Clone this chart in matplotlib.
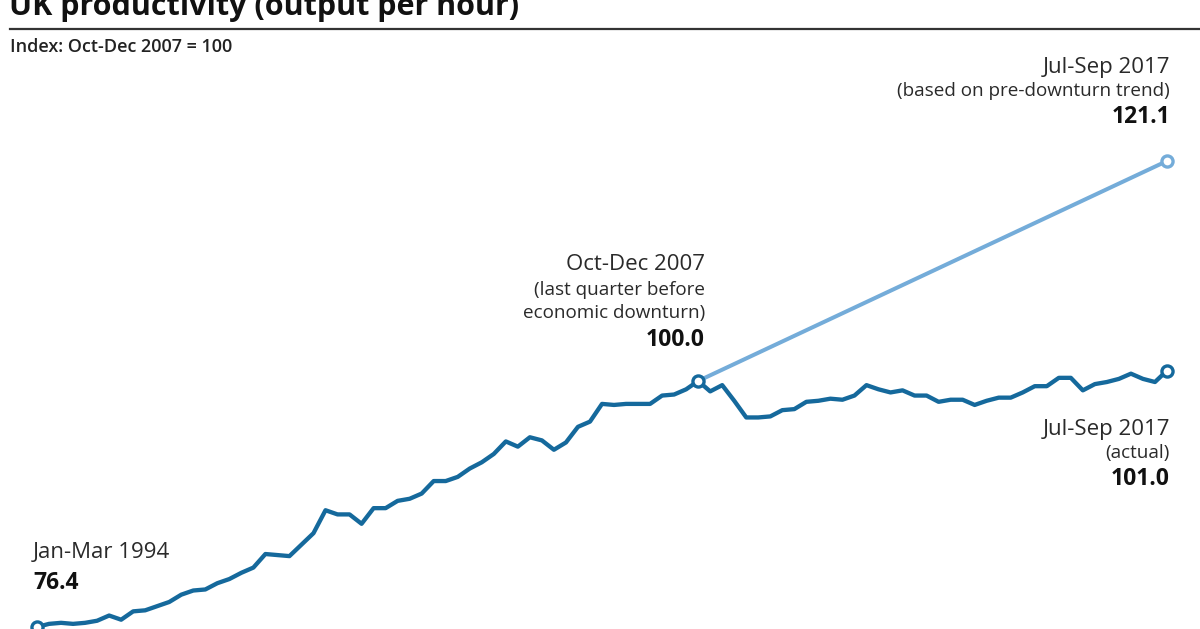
import matplotlib
matplotlib.use("Agg")
import matplotlib.pyplot as plt

# ---- data ----
quarters = list(range(95))  # 0 = Jan-Mar 1994 ... 94 = Jul-Sep 2017
actual = [
    76.4, 76.7, 76.8, 76.7, 76.8, 77.0, 77.5, 77.1, 77.9, 78.0,
    78.4, 78.8, 79.5, 79.9, 80.0, 80.6, 81.0, 81.6, 82.1, 83.4,
    83.3, 83.2, 84.3, 85.4, 87.6, 87.2, 87.2, 86.3, 87.8, 87.8,
    88.5, 88.7, 89.2, 90.4, 90.4, 90.8, 91.6, 92.2, 93.0, 94.2,
    93.7, 94.6, 94.3, 93.4, 94.1, 95.6, 96.1, 97.8, 97.7, 97.8,
    97.8, 97.8, 98.6, 98.7, 99.2, 100.0, 99.0, 99.6, 98.1, 96.5,
    96.5, 96.6, 97.2, 97.3, 98.0, 98.1, 98.3, 98.2, 98.6, 99.6,
    99.2, 98.9, 99.1, 98.6, 98.6, 98.0, 98.2, 98.2, 97.7, 98.1,
    98.4, 98.4, 98.9, 99.5, 99.5, 100.3, 100.3, 99.1, 99.7, 99.9,
    100.2, 100.7, 100.2, 99.9, 101.0,
]
trend_q = [55, 94]
trend_v = [100.0, 121.1]

title = "UK productivity (output per hour)"
subtitle = "Index: Oct-Dec 2007 = 100"

DARK = "#15699c"
LIGHT = "#74acd9"
TXT = "#2a2a2a"
FONT = "Open Sans"

W, H = 1200, 629
fig = plt.figure(figsize=(W / 100, H / 100), dpi=100)
ax = fig.add_axes([0, 0, 1, 1])

# axis limits so that q0 sits at px 37 and 94 at px 1167; 76.4 at y=627, 121.1 at y=161
pxq = (1167 - 37) / 94.0
pxv = (627 - 161) / (121.1 - 76.4)
ax.set_xlim(0 - 37 / pxq, 94 + (W - 1167) / pxq)
ax.set_ylim(76.4 - (H - 627) / pxv, 76.4 + 627 / pxv)
ax.axis("off")

ax.plot(trend_q, trend_v, color=LIGHT, lw=2.9, solid_capstyle="round", zorder=2)
ax.plot(quarters, actual, color=DARK, lw=3.1, solid_joinstyle="round", zorder=3)
for q, v, c in [(0, actual[0], DARK), (55, actual[55], DARK), (94, actual[94], DARK),
                (trend_q[1], trend_v[1], LIGHT)]:
    ax.plot([q], [v], marker="o", ms=8, mfc="white", mec=c, mew=2.4, zorder=4, clip_on=False)

def ft(x, y, s, **kw):
    kw.setdefault("family", FONT)
    kw.setdefault("color", TXT)
    fig.text(x / W, 1 - y / H, s, va="center", **kw)

# title (cut off at top like the reference)
ft(9, 7, title, fontsize=22, weight="bold", color="#111111")
fig.add_artist(plt.Line2D([10 / W, 1], [1 - 29 / H, 1 - 29 / H], color="#333333", lw=1.6))
ft(10, 47, subtitle, fontsize=13, weight="semibold", color="#222222")

# annotations
MAIN, SUB, VAL = 16, 13.6, 16.5
ft(33, 553, "Jan-Mar 1994", fontsize=MAIN)
ft(33, 583, "76.4", fontsize=VAL, weight="bold", color="#111111")

ft(705, 265, "Oct-Dec 2007", fontsize=MAIN, ha="right")
ft(705, 290, "(last quarter before", fontsize=SUB, ha="right")
ft(705, 313, "economic downturn)", fontsize=SUB, ha="right")
ft(705, 340, "100.0", fontsize=VAL, weight="bold", color="#111111", ha="right")

ft(1170, 67, "Jul-Sep 2017", fontsize=MAIN, ha="right")
ft(1170, 91, "(based on pre-downturn trend)", fontsize=SUB, ha="right")
ft(1170, 117, "121.1", fontsize=VAL, weight="bold", color="#111111", ha="right")

ft(1170, 429, "Jul-Sep 2017", fontsize=MAIN, ha="right")
ft(1170, 453, "(actual)", fontsize=SUB, ha="right")
ft(1170, 479, "101.0", fontsize=VAL, weight="bold", color="#111111", ha="right")

fig.savefig("out.png", dpi=100, facecolor="white")
